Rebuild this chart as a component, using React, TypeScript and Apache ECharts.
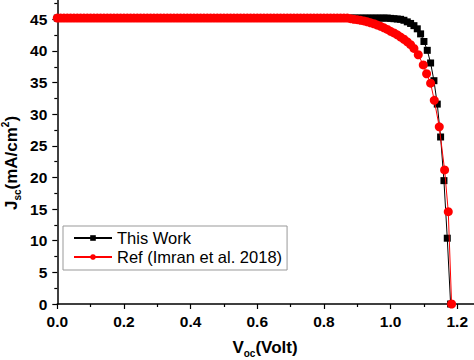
import React, { useEffect, useRef } from "react";
import * as echarts from "echarts";

// "This Work" (black squares): voltage (V) and current density (mA/cm2)
const thisWorkV = [
  0.00, 0.02, 0.04, 0.06, 0.08, 0.10, 0.12, 0.14, 0.16, 0.18,
  0.20, 0.22, 0.24, 0.26, 0.28, 0.30, 0.32, 0.34, 0.36, 0.38,
  0.40, 0.42, 0.44, 0.46, 0.48, 0.50, 0.52, 0.54, 0.56, 0.58,
  0.60, 0.62, 0.64, 0.66, 0.68, 0.70, 0.72, 0.74, 0.76, 0.78,
  0.80, 0.82, 0.84, 0.86,
  0.88, 0.89, 0.90, 0.91, 0.92, 0.93, 0.94, 0.95, 0.96, 0.97, 0.98, 0.99,
  1.00, 1.01, 1.02, 1.03, 1.04, 1.05, 1.06, 1.07, 1.08, 1.09,
  1.10, 1.11, 1.12, 1.13, 1.14, 1.15, 1.16, 1.17, 1.18,
];
const thisWorkJ = [
  45.2, 45.2, 45.2, 45.2, 45.2, 45.2, 45.2, 45.2, 45.2, 45.2,
  45.2, 45.2, 45.2, 45.2, 45.2, 45.2, 45.2, 45.2, 45.2, 45.2,
  45.2, 45.2, 45.2, 45.2, 45.2, 45.2, 45.2, 45.2, 45.2, 45.2,
  45.2, 45.2, 45.2, 45.2, 45.2, 45.2, 45.2, 45.2, 45.2, 45.2,
  45.2, 45.2, 45.2, 45.2,
  45.2, 45.2, 45.2, 45.2, 45.2, 45.2, 45.2, 45.2, 45.2, 45.2, 45.2, 45.2,
  45.15, 45.1, 45.05, 45.0, 44.85, 44.6, 44.35, 44.0, 43.5, 42.7,
  41.5, 40.1, 38.1, 35.3, 31.6, 26.4, 19.5, 10.4, 0,
];

// "Ref (Imran et al. 2018)" (red circles)
const refV = [
  0.00, 0.01, 0.02, 0.03, 0.04, 0.05, 0.06, 0.07, 0.08, 0.09,
  0.10, 0.11, 0.12, 0.13, 0.14, 0.15, 0.16, 0.17, 0.18, 0.19,
  0.20, 0.21, 0.22, 0.23, 0.24, 0.25, 0.26, 0.27, 0.28, 0.29,
  0.30, 0.31, 0.32, 0.33, 0.34, 0.35, 0.36, 0.37, 0.38, 0.39,
  0.40, 0.41, 0.42, 0.43, 0.44, 0.45, 0.46, 0.47, 0.48, 0.49,
  0.50, 0.51, 0.52, 0.53, 0.54, 0.55, 0.56, 0.57, 0.58, 0.59,
  0.60, 0.61, 0.62, 0.63, 0.64, 0.65, 0.66, 0.67, 0.68, 0.69,
  0.70, 0.71, 0.72, 0.73, 0.74, 0.75, 0.76, 0.77, 0.78, 0.79,
  0.80, 0.81, 0.82, 0.83, 0.84, 0.85, 0.86, 0.87, 0.88, 0.89,
  0.90, 0.91, 0.92, 0.93, 0.94, 0.95, 0.96, 0.97, 0.98, 0.99,
  1.00, 1.01, 1.02, 1.03, 1.04, 1.05, 1.06, 1.07,
  1.083, 1.098, 1.108, 1.12, 1.131, 1.146, 1.162, 1.173, 1.183,
];
const refJ = [
  45.2, 45.2, 45.2, 45.2, 45.2, 45.2, 45.2, 45.2, 45.2, 45.2,
  45.2, 45.2, 45.2, 45.2, 45.2, 45.2, 45.2, 45.2, 45.2, 45.2,
  45.2, 45.2, 45.2, 45.2, 45.2, 45.2, 45.2, 45.2, 45.2, 45.2,
  45.2, 45.2, 45.2, 45.2, 45.2, 45.2, 45.2, 45.2, 45.2, 45.2,
  45.2, 45.2, 45.2, 45.2, 45.2, 45.2, 45.2, 45.2, 45.2, 45.2,
  45.2, 45.2, 45.2, 45.2, 45.2, 45.2, 45.2, 45.2, 45.2, 45.2,
  45.2, 45.2, 45.2, 45.2, 45.2, 45.2, 45.2, 45.2, 45.2, 45.2,
  45.2, 45.2, 45.2, 45.2, 45.2, 45.2, 45.2, 45.2, 45.2, 45.2,
  45.2, 45.2, 45.2, 45.2, 45.2, 45.2, 45.2, 45.2, 45.1, 45.0,
  44.95, 44.85, 44.75, 44.6, 44.45, 44.3, 44.1, 43.9, 43.65, 43.4,
  43.1, 42.85, 42.55, 42.2, 41.85, 41.45, 41.0, 40.4,
  39.4, 37.8, 36.4, 34.9, 32.2, 28.0, 21.2, 14.6, 0,
];

const seriesNames = ["This Work", "Ref (Imran et al. 2018)"];

const FONT = "Liberation Sans, Arial, sans-serif";

export default function App() {
  const ref = useRef<HTMLDivElement>(null);

  useEffect(() => {
    if (!ref.current) return;
    const chart = echarts.init(ref.current, undefined, { renderer: "svg" });

    const axisCommon = {
      type: "value" as const,
      axisLine: { show: true, lineStyle: { color: "#000", width: 1.5 } },
      axisTick: { show: true, length: 5, inside: false, lineStyle: { color: "#000", width: 1.2 } },
      minorTick: { show: true, splitNumber: 2, length: 3, lineStyle: { color: "#000", width: 1.2 } },
      splitLine: { show: false },
      minorSplitLine: { show: false },
    };

    const main = { fontFamily: FONT, fontWeight: "bold", fontSize: 17, color: "#000", lineHeight: 22 };
    const sub = { fontFamily: FONT, fontWeight: "bold", fontSize: 10, color: "#000", lineHeight: 10, verticalAlign: "bottom" };
    const sup = { fontFamily: FONT, fontWeight: "bold", fontSize: 10, color: "#000", lineHeight: 10, verticalAlign: "top" };

    chart.setOption({
      animation: false,
      backgroundColor: "#fff",
      grid: {
        left: 57.3,
        top: -12.3,
        width: 433.3,
        height: 316.3,
        containLabel: false,
        outerBoundsMode: "none",
      },
      xAxis: {
        ...axisCommon,
        min: 0,
        max: 1.3,
        interval: 0.2,
        axisLabel: {
          fontFamily: FONT,
          fontWeight: "bold",
          fontSize: 15.5,
          color: "#000",
          margin: 9,
          showMaxLabel: false,
          formatter: (v: number) => v.toFixed(1),
        },
      },
      yAxis: {
        ...axisCommon,
        min: 0,
        max: 50,
        interval: 5,
        axisLabel: {
          fontFamily: FONT,
          fontWeight: "bold",
          fontSize: 15.5,
          color: "#000",
          margin: 10,
          showMaxLabel: false,
        },
      },
      legend: {
        orient: "vertical",
        left: 63,
        top: 226,
        backgroundColor: "#fff",
        borderColor: "#999",
        borderWidth: 1,
        borderRadius: 0,
        padding: [3, 5, 4, 10],
        itemWidth: 38,
        itemHeight: 7,
        itemGap: 1,
        textStyle: { fontFamily: FONT, fontSize: 16.5, color: "#000", lineHeight: 18 },
        data: seriesNames,
      },
      graphic: [
        {
          type: "text",
          x: 265,
          y: 347,
          style: {
            text: "{m|V}{s|oc}{m|(Volt)}",
            align: "center",
            verticalAlign: "middle",
            rich: { m: main, s: sub },
          },
        },
        {
          type: "text",
          x: 11,
          y: 163,
          rotation: Math.PI / 2,
          style: {
            text: "{m|J}{s|sc}{m|(mA/cm}{p|2}{m|)}",
            align: "center",
            verticalAlign: "middle",
            rich: { m: main, s: sub, p: sup },
          },
        },
      ],
      series: [
        {
          name: seriesNames[0],
          type: "line",
          data: thisWorkV.map((v, i) => [v, thisWorkJ[i]]),
          symbol: "rect",
          symbolSize: 7,
          showAllSymbol: true,
          color: "#000",
          itemStyle: { color: "#000" },
          lineStyle: { color: "#000", width: 1 },
          z: 2,
        },
        {
          name: seriesNames[1],
          type: "line",
          data: refV.map((v, i) => [v, refJ[i]]),
          symbol: "circle",
          symbolSize: 9,
          showAllSymbol: true,
          color: "#f00",
          itemStyle: { color: "#f00" },
          lineStyle: { color: "#f00", width: 1 },
          z: 3,
        },
      ],
    });

    return () => chart.dispose();
  }, []);

  return <div ref={ref} style={{ width: 474, height: 360, position: "absolute", left: 0, top: 0 }} />;
}
